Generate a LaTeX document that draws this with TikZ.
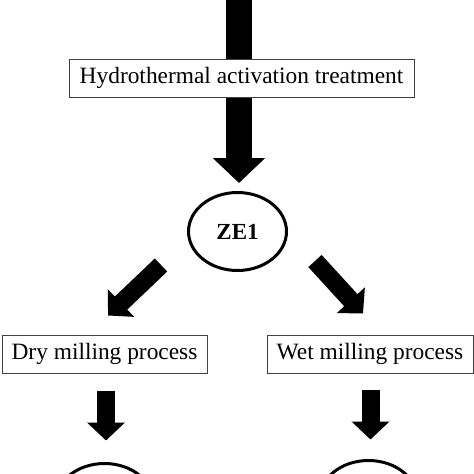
\documentclass[tikz,border=0pt]{standalone}
\usepackage{fontspec}
\setmainfont{Liberation Serif}
\usetikzlibrary{arrows.meta,shapes.geometric}
\tikzset{
  stepbox/.style={draw=black!75, line width=1pt, inner sep=0pt, minimum height=38pt, font=\fontsize{23.4}{28}\selectfont},
  sample/.style={draw, ellipse, line width=3pt, inner sep=0pt, minimum width=98pt, minimum height=78pt, font=\fontsize{23}{27}\selectfont\bfseries},
  bigarrow/.style={line width=26pt, -{Triangle[length=25pt,width=51pt]}},
  smallarrow/.style={line width=18pt, -{Triangle[length=18pt,width=37pt]}}
}
\begin{document}
\begin{tikzpicture}[x=1pt,y=-1pt]
\useasboundingbox (0,0) rectangle (474,474);
\coordinate (top) at (239,0);
\node [stepbox, minimum width=345pt] (hyd) at (241.5,78) {Hydrothermal activation treatment};
\node [sample] (ze1) at (237.5,231.5) {ZE1};
\node [stepbox, minimum width=205pt] (dry) at (104.5,354) {Dry milling process};
\node [stepbox, minimum width=206pt] (wet) at (370,354) {Wet milling process};
\node [sample] (drys) at (104.5,502.5) {};
\node [sample] (wets) at (368.5,499.5) {};
\draw [line width=26pt] (top) -- (top |- hyd.north);
\draw [bigarrow] (top |- hyd.south) -- ([shift={(1.5,-8)}]ze1.north);
\draw [smallarrow] ([shift={(-76.5,33.5)}]ze1.center) -- ([shift={(3.5,-19)}]dry.north);
\draw [smallarrow] ([shift={(77.5,29.5)}]ze1.center) -- ([shift={(-7,-21)}]wet.north);
\draw [smallarrow] ([shift={(1.5,17)}]dry.south) -- ([shift={(1.5,67)}]dry.south);
\draw [smallarrow] ([shift={(0.5,16)}]wet.south) -- ([shift={(0.5,66)}]wet.south);
\end{tikzpicture}
\end{document}
